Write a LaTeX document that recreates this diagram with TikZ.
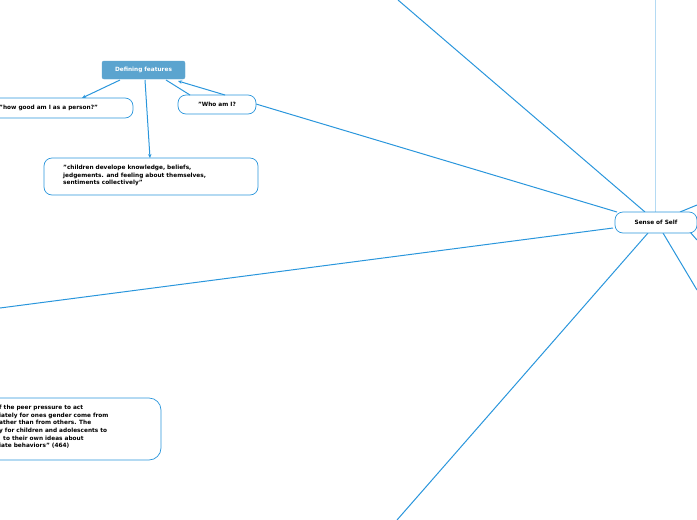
\documentclass[tikz,border=0pt]{standalone}
\usepackage{fontspec}
\setmainfont{DejaVu Sans}
\usetikzlibrary{arrows.meta}
\definecolor{ln}{HTML}{2A96DC}
\definecolor{hd}{HTML}{5BA4CF}
\tikzset{
 bub/.style={draw=ln,line width=0.7pt,rounded corners=8pt,fill=white,font=\bfseries\fontsize{5.8}{7.6}\selectfont,inner sep=0pt},
 txt/.style={font=\bfseries\fontsize{5.8}{7.6}\selectfont,inner sep=0pt,align=left},
 con/.style={draw=ln,line width=1pt},
 arr/.style={con,-{Stealth[length=4pt,width=3.5pt]}}
}
\begin{document}
\begin{tikzpicture}[x=1pt,y=-1pt]
\useasboundingbox (0,0) rectangle (697,520);
\coordinate (t1) at (398,0);
\coordinate (t2) at (655,0);
\coordinate (r1) at (697,205);
\coordinate (r2) at (697,240);
\coordinate (r3) at (697,290);
\coordinate (b1) at (397,520);
\coordinate (l1) at (0,308);
\draw[con] (645,212) -- (t1);
\draw[draw=ln!35,line width=1pt] (655,212) -- (t2);
\draw[con] (680,212) -- (r1);
\draw[con] (690,232) -- (r2);
\draw[con] (663,233) -- (r3);
\draw[con] (648,233) -- (b1);
\draw[con] (613,228) -- (l1);
\draw[con] (617,212) -- (256,104);
\node[bub,minimum width=82pt,minimum height=21pt] (s) at (656,222.5) {Sense of Self};
\node[draw=hd,fill=hd,rounded corners=2pt,text=white,font=\bfseries\fontsize{5.8}{7}\selectfont,minimum width=83pt,minimum height=18pt,inner sep=0pt] (d) at (143.5,70) {Defining features};
\node[bub,minimum width=150pt,minimum height=20pt] (h) at (58,108) {};
\node[txt,anchor=west] (ht) at (-1,108) {"how good am I as a person?"};
\node[bub,minimum width=78pt,minimum height=19pt] (w) at (217,104.5) {"Who am I?};
\node[bub,minimum width=214pt,minimum height=37pt] (c) at (151,176.5) {};
\node[txt,anchor=north west] (ct) at (63,165) {"children develope knowledge, beliefs,\\ jedgements. and feeling about themselves,\\ sentiments collectively"};
\node[bub,minimum width=200pt,minimum height=62pt,rounded corners=12pt] (p) at (61,429) {};
\node[txt,anchor=north west] (pt) at (-1,405) {f the peer pressure to act\\ iately for ones gender come from\\ ather than from others. The\\ y for children and adolescents to\\ \ \ to their own ideas about\\ iate behaviors" (464)};
\draw[arr] (120,80) -- (82,98);
\draw[arr] (145,80) -- (150,158);
\draw[con] (166,80) -- (190,95);
\draw[arr] (225,95) -- (178,81);
\end{tikzpicture}
\end{document}
